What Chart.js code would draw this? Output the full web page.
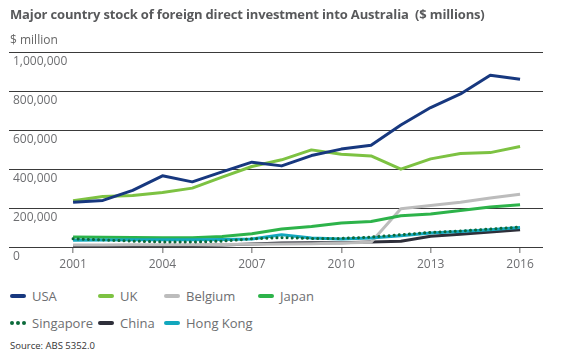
<!DOCTYPE html>
<html><head><meta charset="utf-8">
<script src="https://cdn.jsdelivr.net/npm/chart.js@4"></script>
<style>
html,body{margin:0;padding:0;background:#fff;width:563px;height:356px;overflow:hidden;font-family:"Open Sans",sans-serif;}
#wrap{position:relative;width:563px;height:356px;}
#title{position:absolute;left:10px;top:5px;font-size:13px;font-weight:bold;color:#58595b;white-space:nowrap;letter-spacing:-0.15px;}
#unit{position:absolute;left:10px;top:31px;font-size:12px;color:#666;}
canvas{position:absolute;left:0;top:0;}
.leg{position:absolute;font-size:13px;color:#6d6e71;display:flex;align-items:center;white-space:nowrap;}
.sw{display:inline-block;width:16px;height:4px;border-radius:2px;margin-right:6px;}
.dots{display:inline-flex;width:16px;justify-content:space-between;margin-right:6px;}
.dots i{display:inline-block;width:4px;height:4px;border-radius:2px;background:#0b6a3a;}
#src{position:absolute;left:10px;top:339px;font-size:9.5px;color:#333;}
</style></head><body>
<div id="wrap">
<canvas id="c" width="563" height="280"></canvas>
<div id="title">Major country stock of foreign direct investment into Australia&nbsp; ($ millions)</div>
<div id="unit">$ million</div>
<div id="legend"></div>
<div id="src">Source: ABS 5352.0</div>
</div>
<script>
const years = [2001,2002,2003,2004,2005,2006,2007,2008,2009,2010,2011,2012,2013,2014,2015,2016];
const xTickYears = [2001,2004,2007,2010,2013,2016];
const yTicks = [0,200000,400000,600000,800000,1000000];
const usa = [230000,239000,290000,365000,334000,385000,435000,416000,469000,502000,522000,626000,715000,785000,881000,860000];
const uk = [237000,259000,264000,280000,302000,358000,413000,447000,498000,476000,467000,399000,452000,479000,484000,515000];
const belgium = [10000,10000,11000,12000,12000,13000,14000,15000,17000,20000,24000,196000,213000,230000,251000,271000];
const japan = [51000,50000,49000,47000,48000,54000,68000,92000,105000,123000,131000,160000,169000,187000,205000,217000];
const singapore = [42000,36000,30000,26000,25000,30000,42000,48000,44000,44000,51000,63000,75000,82000,92000,102000];
const china = [3000,4000,5000,6000,8000,10000,15000,20000,22000,22000,26000,29000,55000,66000,77000,89000];
const hongKong = [34000,36000,37000,37000,37000,38000,41000,63000,46000,41000,46000,58000,72000,80000,89000,100000];

const seriesNames = ["USA","UK","Belgium","Japan","Singapore","China","Hong Kong"];
const seriesData = [usa,uk,belgium,japan,singapore,china,hongKong];
const colors = ["#17387f","#7dc242","#bcbcbc","#2db34a","#0b6a3a","#2e2f3a","#12a7bd"];
const orders = [0,3,5,4,1,6,2];

const pts = arr => arr.map((v,i)=>({x:years[i],y:v}));
const datasets = seriesNames.map((n,i)=>({
  label:n, data:pts(seriesData[i]), borderColor:colors[i], backgroundColor:colors[i],
  borderWidth:3, pointRadius:0, tension:0, order:orders[i],
  borderDash: i===4?[0.1,5]:[], borderCapStyle: i===4?'round':'butt', borderJoinStyle:'round'
}));

new Chart(document.getElementById('c'),{
  type:'line',
  data:{datasets},
  options:{
    responsive:false, animation:false,
    layout:{padding:{left:9,right:20,top:52,bottom:0}},
    plugins:{legend:{display:false},tooltip:{enabled:false}},
    scales:{
      x:{type:'linear',min:1998.85,max:2016.77,
        afterBuildTicks:s=>{s.ticks=xTickYears.map(v=>({value:v}));},
        afterFit:s=>{s.height=33;},
        grid:{drawOnChartArea:false,drawTicks:true,tickLength:6,color:'#9a9a9a',lineWidth:1.5},
        border:{display:false},
        ticks:{padding:4,color:'#6d6e71',font:{family:'Open Sans',size:12},callback:v=>String(v),maxRotation:0}
      },
      y:{min:0,max:1000000,
        afterBuildTicks:s=>{s.ticks=yTicks.map(v=>({value:v}));},
        afterFit:s=>{s.width=0;},
        grid:{color:'#3a3a3a',lineWidth:1,drawTicks:false},
        border:{display:false},
        ticks:{mirror:true,padding:4,labelOffset:10,color:'#6d6e71',font:{family:'Open Sans',size:12},
          callback:v=>v.toLocaleString('en-US')}
      }
    }
  }
});

// HTML legend
const legPos = [[10,287],[98,287],[164,287],[258,287],[10,314],[98,314],[164,314]];
const lg = document.getElementById('legend');
seriesNames.forEach((n,i)=>{
  const d=document.createElement('div'); d.className='leg';
  d.style.left=legPos[i][0]+'px'; d.style.top=legPos[i][1]+'px';
  if(i===4){ d.innerHTML='<span class="dots"><i></i><i></i><i></i></span>'+n; }
  else { d.innerHTML='<span class="sw" style="background:'+colors[i]+'"></span>'+n; }
  lg.appendChild(d);
});
</script>
</body></html>
